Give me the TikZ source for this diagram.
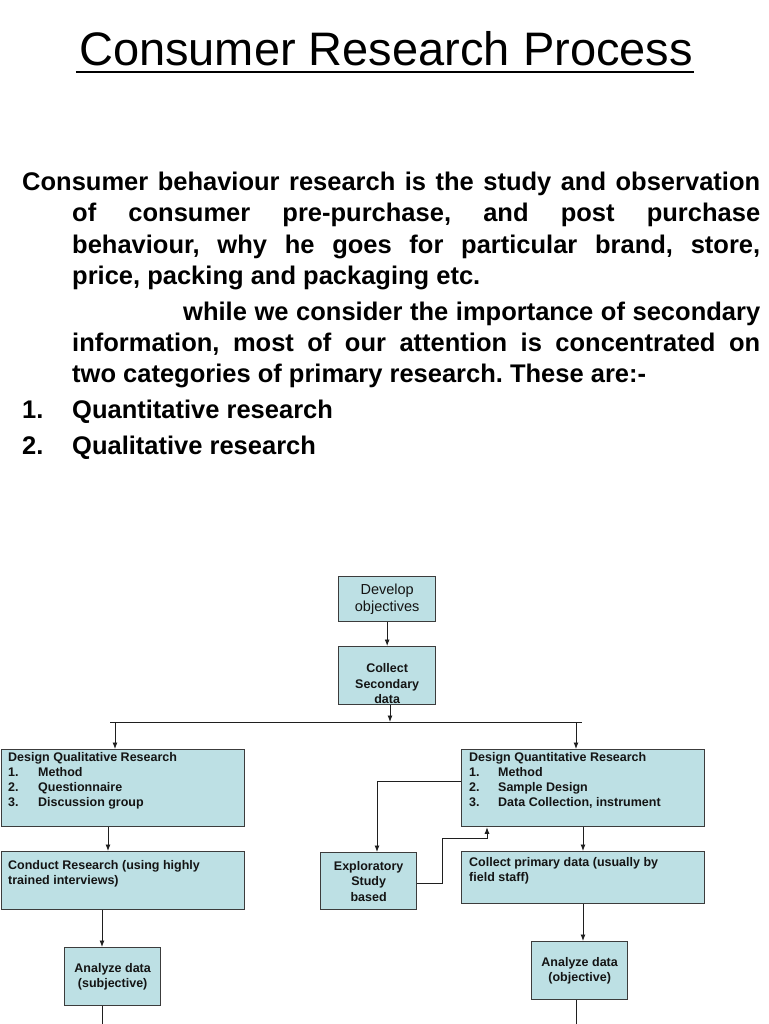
\documentclass[tikz,border=0pt]{standalone}
\usepackage{fontspec}
\setmainfont{Liberation Sans}
\usetikzlibrary{arrows.meta}
\definecolor{boxfill}{RGB}{189,224,228}
\definecolor{boxline}{RGB}{60,60,60}
\frenchspacing
\begin{document}
\begin{tikzpicture}[x=1pt,y=-1pt,
  box/.style={draw=boxline, line width=1.3pt, fill=boxfill, inner sep=0pt, anchor=north west},
  btxt/.style={inner sep=0pt, font=\fontsize{12.5}{15}\selectfont\bfseries, text=black!92},
  ctxt/.style={align=center, font=\fontsize{12.5}{15.5}\selectfont\bfseries, text=black!92},
  conn/.style={draw=black!88, line width=0.9pt},
  arr/.style={conn, -{Latex[length=6.5pt,width=5pt]}},
  para/.style={inner sep=0pt, anchor=base west, font=\fontsize{25.5}{31}\selectfont\bfseries}
]
\useasboundingbox (0,0) rectangle (768,1024);
\fill[white] (0,0) rectangle (768,1024);

% title
\node[inner sep=0pt, anchor=base] (title) at (386,66) {\fontsize{47}{50}\selectfont Consumer Research Process};
\draw[line width=2.4pt] ([xshift=-3pt,yshift=-6pt]title.base west) -- ([xshift=1pt,yshift=-6pt]title.base east);

% paragraph
\node[para] (p1) at (22,191) {\makebox[738pt][s]{Consumer behaviour research is the study and observation}};
\node[para] (p2) at (72,222) {\makebox[688pt][s]{of consumer pre-purchase, and post purchase}};
\node[para] (p3) at (72,253) {\makebox[688pt][s]{behaviour, why he goes for particular brand, store,}};
\node[para] (p4) at (72,284) {price, packing and packaging etc.};
\node[para] (p5) at (183,320) {\makebox[577pt][s]{while we consider the importance of secondary}};
\node[para] (p6) at (72,351) {\makebox[688pt][s]{information, most of our attention is concentrated on}};
\node[para] (p7) at (72,382) {two categories of primary research. These are:-};
\node[para] (n1) at (22,418) {1.};
\node[para] (i1) at (72,418) {Quantitative research};
\node[para] (n2) at (22,454) {2.};
\node[para] (i2) at (72,454) {Qualitative research};

% diagram boxes
\node[box, minimum width=97pt, minimum height=45pt, align=center, font=\fontsize{14.5}{17}\selectfont, text=black!92] (dev) at (338,576) {Develop\\objectives};
\node[box, minimum width=97pt, minimum height=58pt] (sec) at (338,646) {};
\node[ctxt, inner sep=0pt] (sect) at ([yshift=-8pt]sec.center) {Collect\\Secondary\\data};

\node[box, minimum width=243pt, minimum height=77pt] (qual) at (1,749) {};
\node[btxt, anchor=north west, align=left] (qualt) at ([shift={(7,3.5)}]qual.north west)
  {Design Qualitative Research\\\makebox[30pt][l]{1.}Method\\\makebox[30pt][l]{2.}Questionnaire\\\makebox[30pt][l]{3.}Discussion group};

\node[box, minimum width=243pt, minimum height=77pt] (quan) at (461,749) {};
\node[btxt, anchor=north west, align=left] (quant) at ([shift={(8,3.5)}]quan.north west)
  {Design Quantitative Research\\\makebox[29pt][l]{1.}Method\\\makebox[29pt][l]{2.}Sample Design\\\makebox[29pt][l]{3.}Data Collection, instrument};

\node[box, minimum width=243pt, minimum height=58pt] (cond) at (1,851) {};
\node[btxt, anchor=north west, align=left] (condt) at ([shift={(7,9.5)}]cond.north west)
  {Conduct Research (using highly\\trained interviews)};

\node[box, minimum width=243pt, minimum height=52pt] (prim) at (461,851) {};
\node[btxt, anchor=north west, align=left] (primt) at ([shift={(8,6.5)}]prim.north west)
  {Collect primary data (usually by\\field staff)};

\node[box, ctxt, minimum width=96pt, minimum height=57pt, inner sep=0pt] (expl) at (320,852) {Exploratory\\Study\\based};
\node[box, ctxt, minimum width=96pt, minimum height=58pt, inner sep=0pt] (anas) at (64,947) {Analyze data\\(subjective)};
\node[box, ctxt, minimum width=96pt, minimum height=58pt, inner sep=0pt] (anao) at (531,941) {Analyze data\\(objective)};

% helper coordinates
\coordinate (bl) at (110,722);
\coordinate (br) at (582,722);
\coordinate (bm) at (390,722);
\coordinate (qa) at (115,722);
\coordinate (qb) at (576,722);
\coordinate (x108) at (108,0);
\coordinate (x102) at (102,0);
\coordinate (x583) at (583,0);
\coordinate (x576) at (576,0);
\coordinate (endl) at (0,1030);
\coordinate (e1) at (377,781);
\coordinate (e0) at (0,883);
\coordinate (e2) at (442,838);
\coordinate (e3) at (487,838);

% connectors
\draw[arr] (dev) -- (sec);
\draw[arr] (sec.south -| bm) -- (bm);
\draw[conn] (bl) -- (br);
\draw[arr] (qa) -- (qa |- qual.north);
\draw[arr] (qb) -- (qb |- quan.north);
\draw[arr] (qual.south -| x108) -- (cond.north -| x108);
\draw[arr] (cond.south -| x102) -- (anas.north -| x102);
\draw[conn] (anas.south -| x102) -- (x102 |- endl);
\draw[arr] (quan.south -| x583) -- (prim.north -| x583);
\draw[arr] (prim.south -| x583) -- (anao.north -| x583);
\draw[conn] (anao.south -| x576) -- (x576 |- endl);
\draw[arr] (quan.west |- e1) -- (e1) -- (e1 |- expl.north);
\draw[arr] (expl.east |- e0) -- (e2 |- e0) -- (e2) -- (e3) -- (e3 |- quan.south);
\end{tikzpicture}
\end{document}
